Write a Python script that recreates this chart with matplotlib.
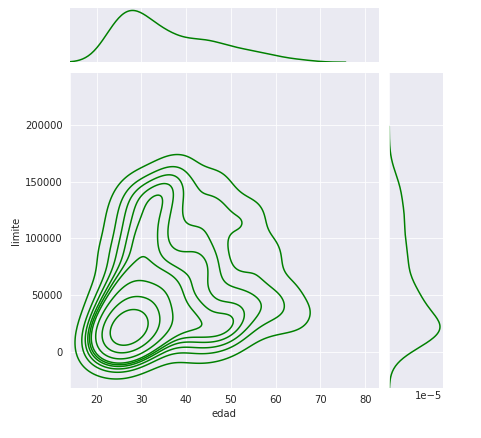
import matplotlib
matplotlib.use("Agg")
import matplotlib.pyplot as plt
import seaborn as sns
import pandas as pd

sns.set_style("darkgrid")
plt.rcParams.update({"font.size": 10, "axes.labelsize": 10, "xtick.labelsize": 10,
                     "ytick.labelsize": 10, "lines.linewidth": 1.5})

edad = [22,23,24,25,26,27,28,29,30,31,32,33,34,35,36,37,38,39,40,41,42,43,44,45,46,47,48,50,52,55,58,62,66,
        24,26,28,30,25,27,29,31,33,35,23,29,32,34,36,38,30,27,26,28,22,21,33,37,42,45,50,53,56,31,35,39,44,
        24,25,26,27,28,29,30,23,25,27,29,31,
        48,51,54,57,60,46,49,36,34,40,42,44,26,28,24,25,30,32]
limite = [10000,20000,30000,15000,20000,50000,20000,30000,10000,60000,20000,80000,50000,30000,120000,20000,90000,50000,140000,30000,70000,100000,20000,50000,150000,80000,20000,60000,110000,30000,80000,50000,30000,
          50000,80000,110000,140000,5000,10000,5000,15000,25000,10000,40000,70000,100000,130000,60000,160000,45000,35000,0,60000,20000,5000,40000,75000,40000,120000,20000,50000,90000,90000,50000,110000,70000,
          15000,25000,10000,20000,15000,25000,20000,10000,30000,20000,40000,30000,
          130000,20000,120000,50000,30000,10000,40000,150000,145000,20000,10000,90000,120000,140000,90000,60000,100000,120000]

df = pd.DataFrame({"edad": edad, "limite": limite})
g = sns.jointplot(data=df, x="edad", y="limite", kind="kde", color="green",
                  joint_kws={"bw_adjust": 0.75}, marginal_kws={"bw_adjust": 0.75})
g.ax_joint.set_xlim(14, 83)
g.ax_joint.set_ylim(-32000, 246000)
g.figure.set_size_inches(481/72, 438/72)
g.figure.subplots_adjust(left=0.145, right=0.92, bottom=0.114, top=0.982)
g.figure.savefig("out.png", dpi=72)
